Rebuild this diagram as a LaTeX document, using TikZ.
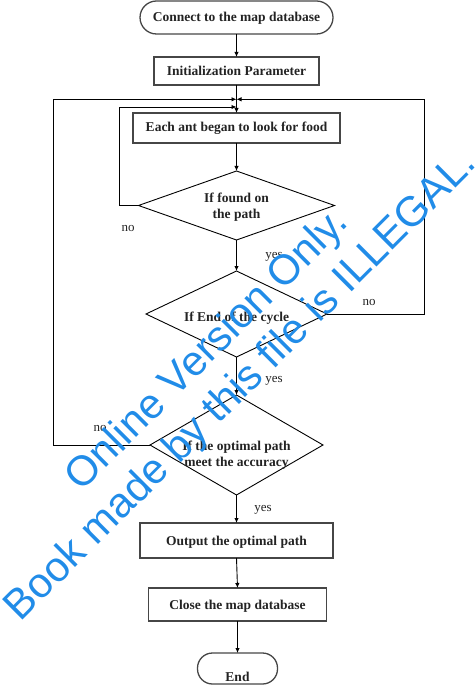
\documentclass[tikz,border=0pt]{standalone}
\usepackage{fontspec}
\setmainfont{Liberation Serif}
\newfontfamily\wmfont{Liberation Sans}
\usetikzlibrary{arrows.meta,shapes.geometric}
\definecolor{wmblue}{RGB}{33,140,232}
\definecolor{boxline}{RGB}{70,70,70}
\definecolor{txt}{RGB}{35,35,35}
\begin{document}
\begin{tikzpicture}[x=1pt,y=-1pt,
  every node/.style={inner sep=0pt,outer sep=0pt},
  procbox/.style={draw=boxline,line width=1.3pt,rectangle},
  termbox/.style={draw=boxline,line width=1.3pt,rectangle},
  decbox/.style={draw=black,line width=0.9pt,diamond},
  lbl/.style={text=txt,font=\fontsize{13.5}{16}\selectfont\bfseries,align=center},
  ans/.style={text=txt,font=\fontsize{13}{15}\selectfont},
  conn/.style={draw=black,line width=0.9pt},
  arr/.style={conn,-{Latex[length=5pt,width=4.5pt]}},
  wm/.style={text=wmblue,font=\fontsize{42}{50}\selectfont\wmfont,rotate=45,anchor=base}
]
\useasboundingbox (0,0) rectangle (474,700);

% terminals and boxes
\node[termbox,rounded corners=16.5pt,minimum width=193pt,minimum height=33pt] (start) at (236.5,17.5) {};
\node[lbl] (starttxt) at (236.5,18) {Connect to the map database};
\node[procbox,minimum width=165pt,minimum height=28pt] (init) at (236.5,71) {};
\node[lbl] (inittxt) at (236.5,71) {Initialization Parameter};
\node[procbox,minimum width=207pt,minimum height=30pt] (ant) at (236.5,128) {};
\node[lbl] (anttxt) at (236.5,128) {Each ant began to look for food};

\node[decbox,minimum width=196pt,minimum height=69pt] (d1) at (236.5,205.5) {};
\node[lbl] (d1txt) at (236.5,207) {If found on\\the path};
\node[decbox,minimum width=181pt,minimum height=86pt] (d2) at (236.5,314) {};
\node[lbl] (d2txt) at (236.5,318) {If End of the cycle};
\node[decbox,minimum width=173pt,minimum height=100pt] (d3) at (236.5,445) {};
\node[lbl] (d3txt) at (236.5,455) {If the optimal path\\meet the accuracy};

\node[procbox,minimum width=193pt,minimum height=35pt] (out) at (236.5,540.5) {};
\node[lbl] (outtxt) at (236.5,542) {Output the optimal path};
\node[procbox,minimum width=178pt,minimum height=33pt] (close) at (237.5,604.5) {};
\node[lbl] (closetxt) at (237.5,606) {Close the map database};
\node[termbox,rounded corners=15pt,minimum width=80pt,minimum height=31pt] (end) at (237.5,668.5) {};
\node[lbl] (endtxt) at (237.5,677) {End};

% merge coordinates
\coordinate (m1) at (236.5,99.3);
\coordinate (m2) at (236.5,107);
\coordinate (ol) at (53,99.3);
\coordinate (or) at (424,99.3);
\coordinate (il) at (119,107);

% main flow
\draw[arr] (start.south) -- (init.north);
\draw[arr] (init.south) -- (ant.north);
\draw[arr] (ant.south) -- (d1.north);
\draw[arr] (d1.south) -- (d2.north);
\draw[arr] (d2.south) -- (d3.north);
\draw[arr] (d3.south) -- (out.north);
\draw[arr] (out.south) -- (close.north);
\draw[arr] (close.south) -- (end.north);

% loops
\draw[arr] (d1.west) -| (il) -- (m2);
\draw[arr] (d2.east) -| (or) -- (m1);
\draw[arr] (d3.west) -| (ol) -- (m1);

% answer labels
\node[ans] (n1) at (128,229) {no};
\node[ans] (y1) at (274,257) {yes};
\node[ans] (n2) at (369,302) {no};
\node[ans] (y2) at (274,381) {yes};
\node[ans] (n3) at (100,428) {no};
\node[ans] (y3) at (263,510) {yes};

% watermark
\node[wm] (wm1) at (216,358.5) {Online Version Only.};
\node[wm] (wm2) at (249.5,394) {Book made by this file is ILLEGAL.};
\end{tikzpicture}
\end{document}
